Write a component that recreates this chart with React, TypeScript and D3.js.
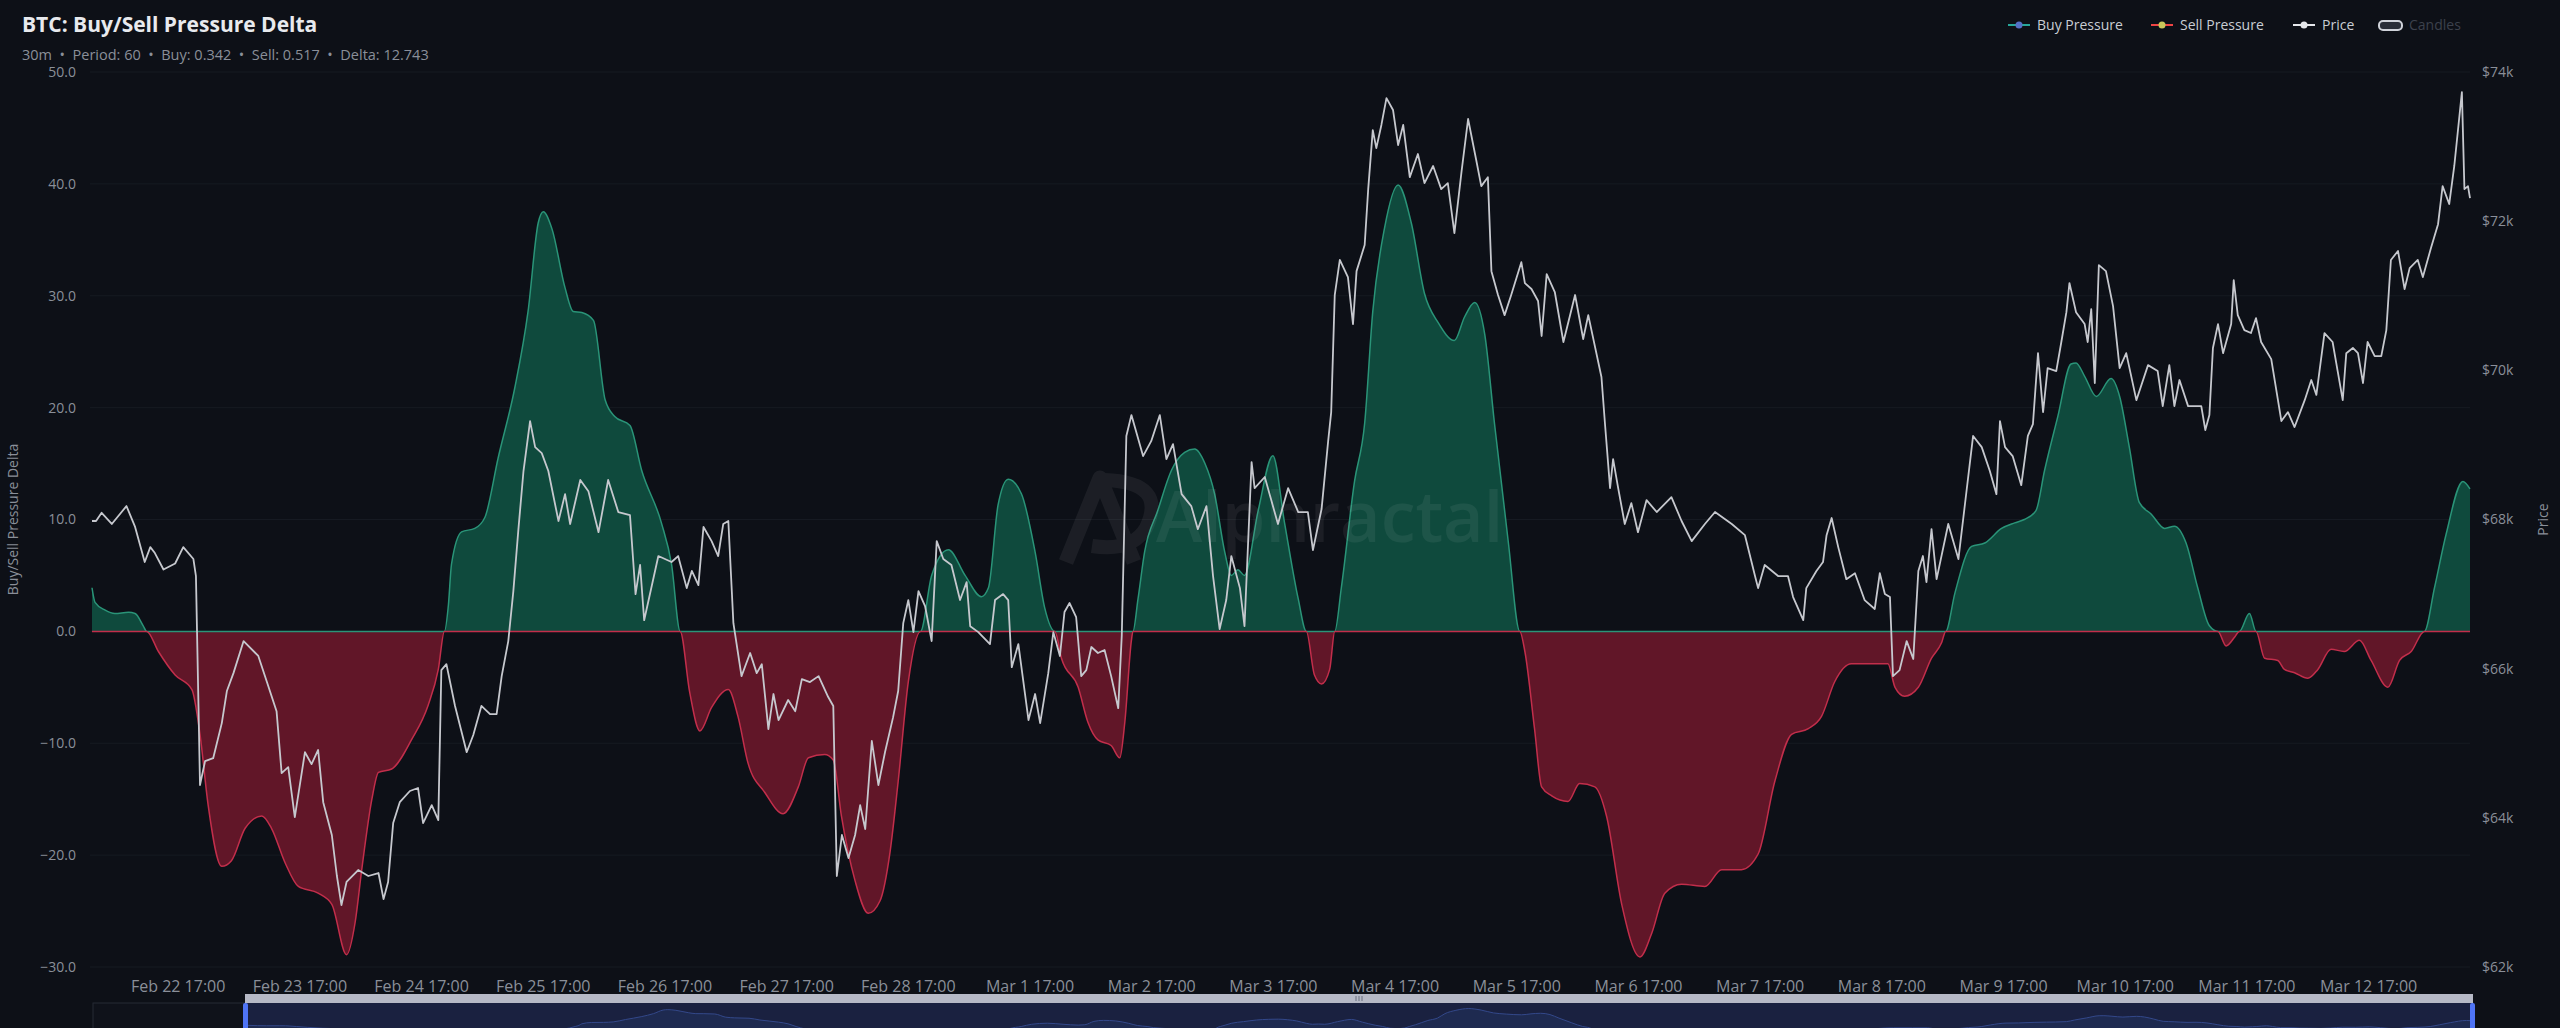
import React, { useEffect } from 'react';
import * as d3 from 'd3';

const W = 2560;
const H = 1028;
const START = new Date(2026, 1, 22, 0, 0);
const SPAN_HOURS = 469;

// Buy/Sell pressure delta (hours since Feb 22 00:00, value)
const deltaHours = [0, 0.6, 2.6, 4.5, 7.2, 8.5, 10.1, 10.8, 13.1, 16.4, 19.7, 21.3, 22.9, 25.6, 27.5, 30.2, 33.5, 35.4, 38.1, 40.7, 44.6, 47.3, 50.2, 51.9, 53.2, 55.2, 56.5, 59.1, 63.0, 66.3, 68.3, 69.5, 70.3, 70.9, 72.9, 75.5, 77.5, 80.1, 83.4, 86.0, 88.0, 89.0, 90.7, 93.3,
  94.9, 96.6, 98.9, 101.2, 103.1, 106.1, 108.4, 112.3, 114.3, 116.0, 117.9, 119.9, 122.2, 125.5, 127.4, 129.4, 132.7, 136.3, 139.3, 141.3, 144.5, 146.2, 147.8, 150.5, 153.1, 155.4, 157.4, 159.0, 161.0, 163.4, 165.6, 168.9, 172.2, 175.4, 176.8, 178.7, 180.7, 183.3, 186.0, 187.9, 189.9,
  191.2, 194.5, 196.4, 198.4, 201.0, 202.7, 203.7, 205.0, 205.3, 206.3, 207.6, 210.2, 212.9, 215.5, 217.5, 219.5, 221.4, 223.4, 224.7, 226.0, 227.3, 230.0, 232.9, 235.2, 237.9, 239.5, 241.1, 242.5, 244.1, 245.1, 246.4, 249.0, 251.0, 252.6, 254.9, 257.6, 260.2, 262.8, 265.5, 268.7, 270.7, 272.7, 274.7, 276.6, 279.3, 281.6,
  282.6, 284.5, 285.9, 287.9, 291.1, 293.4, 296.4, 298.7, 301.7, 305.3, 307.6, 310.2, 313.5, 318.1, 321.4, 325.3, 328.6, 331.9, 335.2, 338.5, 341.1, 343.7, 347.0, 351.0, 354.2, 355.6, 357.5, 360.2, 362.8, 364.8, 365.6, 367.4, 370.7, 373.3, 376.6, 379.2,
  381.1, 383.4, 385.1, 387.7, 390.3, 391.3, 393.0, 395.3, 398.2, 399.9, 401.8, 403.8, 406.1, 408.8, 410.7, 413.0, 415.3, 417.6, 419.3, 420.9, 422.6, 423.5, 425.5, 426.8, 428.5, 431.1, 432.4, 434.4, 437.0, 439.0, 441.6, 444.2, 447.2, 449.5, 452.8, 455.1, 457.4, 460.0, 462.0, 464.3, 467.6, 469.0];
const deltaValues = [3.9, 2.6, 1.9, 1.6, 1.7, 1.6, 0.5, 0, -1.8, -3.9, -5.2, -9.2, -15.5, -21.0, -20.5, -17.6, -16.5, -17.6, -20.7, -22.8, -23.4, -24.4, -28.9, -26.0, -21.3, -15.0, -12.6, -12.3, -9.7, -6.6, -3.4, 0, 2.4, 6.0, 8.9, 9.2, 10.2, 15.5, 21.8, 28.6, 36.5, 37.5, 36.0, 30.7,
  28.6, 28.5, 27.8, 20.7, 19.2, 18.4, 14.4, 9.7, 6.0, 0, -5.5, -8.9, -6.8, -5.2, -7.6, -11.8, -14.4, -16.3, -13.9, -11.3, -11.0, -11.5, -16.5, -22.3, -25.2, -24.1, -19.7, -13.4, -4.5, 0, 5.0, 7.3, 5.0, 3.1, 3.9, 11.3, 13.6, 12.3, 7.1, 2.1, 0,
  -2.4, -5.0, -8.1, -9.7, -10.2, -11.3, -8.1, -0.8, 0, 2.9, 7.1, 10.8, 14.4, 16.0, 16.3, 15.0, 12.3, 7.1, 5.0, 5.5, 5.0, 10.8, 15.7, 9.7, 2.9, 0, -3.9, -4.7, -3.4, 0, 3.9, 13.4, 18.6, 28.6, 36.0, 39.9, 36.5, 30.2, 27.6, 26.0, 28.1, 29.4, 26.5, 18.6, 8.1, 0,
  -1.8, -8.7, -13.9, -14.7, -15.2, -13.6, -13.9, -16.5, -24.4, -29.1, -27.0, -23.4, -22.6, -22.8, -21.3, -21.3, -19.9, -13.4, -9.2, -8.7, -7.6, -4.5, -2.9, -2.9, -2.9, -5.0, -5.8, -5.0, -2.4, -1.0, 0, 3.4, 7.6, 7.9, 9.2, 9.7,
  10.0, 10.8, 14.4, 19.2, 23.9, 24.0, 22.8, 21.0, 22.6, 21.0, 16.5, 11.5, 10.5, 9.2, 9.4, 7.9, 3.9, 0.5, 0, -1.3, -0.5, 0, 1.6, 0, -2.4, -2.6, -3.4, -3.7, -4.2, -3.4, -1.6, -1.8, -0.8, -2.6, -5.0, -2.6, -1.8, 0, 3.9, 8.7, 13.4, 12.74];

// BTC price (hours since Feb 22 00:00, USD)
const priceHours = [0, 0.8, 1.9, 3.9, 6.8, 8.5, 10.4, 11.5, 12.4, 14.1, 16.4, 18.0, 20.0, 20.5, 21.0, 21.3, 22.3, 23.9, 25.6, 26.6, 27.9, 29.9, 32.8, 34.5, 36.4, 37.4, 38.7, 40.0, 42.0, 43.3, 44.6, 45.6, 47.3, 48.3, 49.2, 50.2, 52.5, 54.5, 56.5, 57.5, 58.4, 59.4, 60.7, 62.7, 64.3, 65.3, 67.0, 68.3, 68.9, 69.9, 71.6, 73.9, 75.2, 76.8, 78.5, 79.8, 80.8, 82.1, 83.1, 84.1, 85.1, 86.4, 87.4, 88.7, 90.0, 92.0,
  93.3, 94.3, 96.3, 97.9, 99.9, 101.8, 103.8, 106.1, 107.2, 108.1, 108.9, 111.7, 114.3, 115.6, 117.3, 118.3, 119.6, 120.6, 122.2, 123.5, 124.5, 125.5, 126.5, 128.1, 129.8, 131.1, 132.1, 133.4, 134.4, 135.4, 137.3, 138.7, 140.0, 141.6, 143.3, 145.2, 146.2, 146.9, 147.9, 149.2, 150.5, 151.5, 152.5, 153.8, 155.1, 156.4, 158.0, 159.0, 160.0, 161.0, 162.0, 163.0, 164.3, 165.6, 166.6, 167.9, 169.5, 171.2, 172.5, 173.2, 174.8, 177.1, 178.1, 179.7, 180.7, 181.4, 182.7, 184.7, 186.0, 187.0, 188.6, 189.6,
  190.9, 191.8, 192.8, 194.1, 195.1, 196.1, 197.1, 198.4, 199.7, 201.0, 202.4, 203.1, 204.0, 205.0, 207.3, 208.9, 210.6, 211.9, 213.2, 214.9, 216.8, 218.1, 219.8, 221.1, 222.4, 223.7, 224.7, 226.4, 227.3, 228.7, 229.3, 231.3, 233.9, 235.9, 237.9, 239.8, 240.8, 242.5, 243.8, 244.4, 245.1, 246.1, 247.7, 248.7, 249.4, 251.0, 251.7, 252.6, 253.3, 254.3, 255.3, 256.6, 257.6, 258.6, 259.9, 261.5, 262.8, 264.5, 266.1, 267.4, 268.7, 270.1, 271.4, 273.0, 274.0, 275.3, 276.0, 277.3, 278.6, 279.9, 281.9,
  282.6, 283.9, 285.2, 285.9, 286.9, 288.5, 290.2, 292.5, 294.1, 295.1, 297.7, 298.4, 299.4, 300.0, 301.0, 302.3, 303.6, 304.9, 306.6, 308.6, 311.5, 313.5, 315.5, 318.1, 320.1, 323.4, 326.0, 328.0, 328.6, 329.9, 332.6, 334.5, 335.5, 337.5, 338.1, 340.1, 341.4, 342.1, 343.1, 344.4, 346.0, 347.7, 349.6, 351.6, 352.6, 353.6, 354.6, 355.2, 356.5, 357.9, 359.2, 360.2, 361.1, 361.8, 362.8, 363.8, 366.1, 368.1, 371.0, 372.7, 374.3, 375.6, 376.3, 377.3,
  378.8, 380.5, 381.8, 382.8, 383.8, 384.8, 385.7, 387.4, 388.4, 389.4, 390.0, 391.3, 393.0, 393.6, 394.3, 395.0, 395.8, 397.2, 398.6, 399.9, 401.2, 403.2, 405.5, 407.4, 408.4, 409.7, 410.7, 411.7, 413.4, 414.7, 416.0, 416.8, 417.6, 418.3, 419.3, 420.3, 421.9, 422.4, 423.2, 424.5, 425.8, 426.8, 427.8, 429.8, 431.8, 433.1, 434.4, 436.4, 437.7, 438.7, 440.3, 441.9, 442.9, 443.9, 444.6, 445.9, 446.9, 447.9, 448.8, 450.2, 451.5, 452.5, 453.4, 454.8, 456.1, 457.1, 458.7, 459.7, 461.3, 462.7, 463.6, 464.9, 465.9, 467.4, 467.9, 468.6, 469.0];
const priceValues = [67980, 67980, 68090, 67940, 68180, 67900, 67430, 67630, 67550, 67330, 67410, 67630, 67470, 67240, 65500, 64440, 64760, 64800, 65270, 65700, 65940, 66370, 66170, 65820, 65430, 64600, 64680, 64010, 64880, 64720, 64910, 64210, 63770, 63220, 62830, 63140, 63300, 63220, 63260, 62910, 63140, 63930, 64210, 64360, 64400, 63930, 64170, 63970, 65980, 66060, 65500, 64880, 65110, 65500, 65390, 65390, 65900, 66370, 67040, 67870, 68650, 69320, 68970, 68890, 68650, 67980,
  68340, 67940, 68530, 68380, 67830, 68530, 68100, 68060, 67000, 67390, 66650, 67510, 67430, 67510, 67080, 67310, 67120, 67900, 67710, 67510, 67940, 67980, 66610, 65900, 66210, 65940, 66060, 65190, 65660, 65310, 65580, 65430, 65860, 65820, 65900, 65620, 65500, 63220, 63770, 63460, 63770, 64170, 63850, 65030, 64440, 64880, 65350, 65700, 66610, 66920, 66490, 67040, 66840, 66370, 67710, 67470, 67390, 66920, 67160, 66570, 66490, 66330, 66920, 67000, 66920, 66020, 66330, 65310, 65660, 65270, 65940, 66490,
  66170, 66760, 66880, 66690, 65900, 65980, 66290, 66210, 66250, 65900, 65470, 66450, 69120, 69400, 68850, 69050, 69400, 68810, 69010, 68340, 68180, 67870, 68180, 67240, 66530, 66920, 67510, 67080, 66570, 68770, 68420, 68570, 67940, 68420, 68100, 68100, 67590, 68140, 69050, 69440, 71010, 71480, 71250, 70620, 71330, 71680, 72430, 73220, 72980, 73290, 73650, 73490, 73020, 73290, 72590, 72900, 72510, 72740, 72430, 72510, 71840, 72660, 73370, 72820, 72470, 72590, 71330, 71010, 70740, 71010, 71450,
  71170, 71090, 70930, 70460, 71290, 71050, 70380, 71010, 70420, 70740, 69910, 69280, 68420, 68810, 68420, 67940, 68220, 67830, 68260, 68100, 68300, 67980, 67710, 67940, 68100, 67940, 67790, 67240, 67080, 67390, 67240, 67240, 66960, 66650, 67080, 67310, 67430, 67790, 68020, 67630, 67200, 67280, 66920, 66800, 67280, 67000, 66960, 65900, 65980, 66370, 66130, 67310, 67510, 67160, 67870, 67200, 67940, 67470, 69120, 68970, 68650, 68340, 69320, 68970,
  68850, 68460, 69120, 69280, 70230, 69440, 70030, 69990, 70380, 70780, 71170, 70780, 70620, 70380, 70820, 69830, 71410, 71330, 70860, 70030, 70230, 69600, 70070, 69990, 69520, 70070, 69520, 69870, 69520, 69520, 69520, 69200, 69400, 70300, 70620, 70230, 70620, 71210, 70740, 70540, 70500, 70700, 70380, 70150, 69320, 69440, 69240, 69600, 69870, 69670, 70500, 70380, 69990, 69600, 70230, 70300, 70230, 69830, 70380, 70190, 70190, 70540, 71480, 71600, 71090, 71370, 71480, 71250, 71640, 71960, 72470, 72230, 72740, 73730, 72430, 72470, 72310];

const deltaTicks = [50, 40, 30, 20, 10, 0, -10, -20, -30];
const priceTicks = [74000, 72000, 70000, 68000, 66000, 64000, 62000];
const xTickLabels = ['Feb 22 17:00', 'Feb 23 17:00', 'Feb 24 17:00', 'Feb 25 17:00', 'Feb 26 17:00', 'Feb 27 17:00', 'Feb 28 17:00', 'Mar 1 17:00', 'Mar 2 17:00', 'Mar 3 17:00', 'Mar 4 17:00', 'Mar 5 17:00', 'Mar 6 17:00', 'Mar 7 17:00', 'Mar 8 17:00', 'Mar 9 17:00', 'Mar 10 17:00', 'Mar 11 17:00', 'Mar 12 17:00'];
const legendNames = ['Buy Pressure', 'Sell Pressure', 'Price', 'Candles'];

const FONT = '"Open Sans", "Noto Sans", sans-serif';
const BG = '#0d1017';
const AXIS_TEXT = '#8a8f99';

const hoursToDate = (h: number) => new Date(START.getTime() + h * 3600000);

export default function App() {
  useEffect(() => {
    document.body.style.margin = '0';
    document.body.style.background = BG;
  }, []);

  const END = hoursToDate(SPAN_HOURS);
  const x = d3.scaleTime().domain([START, END]).range([92, 2470]);
  const yD = d3.scaleLinear().domain([-30, 50]).range([967, 72]);
  const yP = d3.scaleLinear().domain([62000, 74000]).range([967, 72]);

  const deltaData = deltaHours.map((h, i) => ({ t: hoursToDate(h), v: deltaValues[i] }));
  const buyData = deltaData.map((d) => ({ t: d.t, v: Math.max(d.v, 0) }));
  const sellData = deltaData.map((d) => ({ t: d.t, v: Math.min(d.v, 0) }));
  const priceData = priceHours.map((h, i) => ({ t: hoursToDate(h), v: priceValues[i] }));

  const curve = d3.curveMonotoneX;
  const areaD = d3.area<{ t: Date; v: number }>().x((d) => x(d.t)).y0(yD(0)).y1((d) => yD(d.v)).curve(curve);
  const lineD = d3.line<{ t: Date; v: number }>().x((d) => x(d.t)).y((d) => yD(d.v)).curve(curve);
  const lineP = d3.line<{ t: Date; v: number }>().x((d) => x(d.t)).y((d) => yP(d.v));

  const parse = d3.timeParse('%Y %b %d %H:%M');
  const xTicks = xTickLabels.map((l) => ({ label: l, t: parse('2026 ' + l) as Date }));

  // slider (data zoom)
  const sx = d3.scaleTime().domain([START, END]).range([245, 2473]);
  const sy = d3.scaleLinear().domain([-30, 50]).range([1040, 1004]);
  const shadowArea = d3.area<{ t: Date; v: number }>().x((d) => sx(d.t)).y0(1045).y1((d) => sy(d.v)).curve(curve);
  const shadowLine = d3.line<{ t: Date; v: number }>().x((d) => sx(d.t)).y((d) => sy(d.v)).curve(curve);

  const legendX = [2008, 2151, 2293, 2379];

  return (
    <svg width={W} height={H} style={{ position: 'fixed', left: 0, top: 0, display: 'block' }} fontFamily={FONT}>
      <rect x={0} y={0} width={W} height={H} fill={BG} />

      {/* grid */}
      {deltaTicks.map((t) => (
        <line key={'g' + t} x1={90} x2={2470} y1={yD(t)} y2={yD(t)} stroke="#161a22" strokeWidth={1} />
      ))}

      {/* series */}
      <path d={areaD(buyData) || ''} fill="#0f4a3d" />
      <path d={areaD(sellData) || ''} fill="#611628" />
      <path d={lineD(buyData) || ''} fill="none" stroke="#2a9478" strokeWidth={1.5} />
      <path d={lineD(sellData) || ''} fill="none" stroke="#c22e4b" strokeWidth={1.5} />

      {/* watermark */}
      <g opacity={0.06} fill="#ffffff" stroke="#ffffff">
        <path d="M1066,562 L1100,478 L1134,562" fill="none" strokeWidth={15} strokeLinejoin="round" />
        <path d="M1104,480 Q1168,482 1146,528 Q1132,552 1092,546" fill="none" strokeWidth={14} />
        <text x={1156} y={542} fontSize={70} fontWeight={600} stroke="none">Alphractal</text>
      </g>

      <path d={lineP(priceData) || ''} fill="none" stroke="#c6c8ce" strokeWidth={1.8} strokeLinejoin="round" />

      {/* left axis */}
      {deltaTicks.map((t) => (
        <text key={'l' + t} x={76} y={yD(t)} dy="0.35em" textAnchor="end" fontSize={14} fill={AXIS_TEXT}>
          {d3.format('.1f')(t)}
        </text>
      ))}
      <text transform={`translate(18,${(yD(50) + yD(-30)) / 2}) rotate(-90)`} textAnchor="middle" fontSize={14} fill={AXIS_TEXT}>
        Buy/Sell Pressure Delta
      </text>

      {/* right axis */}
      {priceTicks.map((t) => (
        <text key={'r' + t} x={2482} y={yP(t)} dy="0.35em" textAnchor="start" fontSize={14} fill={AXIS_TEXT}>
          {'$' + t / 1000 + 'k'}
        </text>
      ))}
      <text transform={`translate(2548,${(yP(74000) + yP(62000)) / 2}) rotate(-90)`} textAnchor="middle" fontSize={14} fill={AXIS_TEXT}>
        Price
      </text>

      {/* x axis */}
      {xTicks.map((d) => (
        <text key={d.label} x={x(d.t)} y={986} dy="0.35em" textAnchor="middle" fontSize={16} fill={AXIS_TEXT}>
          {d.label}
        </text>
      ))}

      {/* title */}
      <text x={22} y={25} dy="0.35em" fontSize={21} fontWeight={700} fill="#e8eaee">BTC: Buy/Sell Pressure Delta</text>
      <text x={22} y={55} dy="0.35em" fontSize={14.5} fill={AXIS_TEXT} style={{ whiteSpace: 'pre' }}>
        {'30m  •  Period: 60  •  Buy: 0.342  •  Sell: 0.517  •  Delta: 12.743'}
      </text>

      {/* legend */}
      <g fontSize={14}>
        <line x1={legendX[0]} x2={legendX[0] + 22} y1={25} y2={25} stroke="#26a69a" strokeWidth={2} />
        <circle cx={legendX[0] + 11} cy={25} r={3.5} fill="#5470c6" />
        <text x={legendX[0] + 29} y={25} dy="0.35em" fill="#c9cdd4">{legendNames[0]}</text>

        <line x1={legendX[1]} x2={legendX[1] + 22} y1={25} y2={25} stroke="#ef4444" strokeWidth={2} />
        <circle cx={legendX[1] + 11} cy={25} r={3.5} fill="#c9c75a" />
        <text x={legendX[1] + 29} y={25} dy="0.35em" fill="#c9cdd4">{legendNames[1]}</text>

        <line x1={legendX[2]} x2={legendX[2] + 22} y1={25} y2={25} stroke="#e5e7eb" strokeWidth={2} />
        <circle cx={legendX[2] + 11} cy={25} r={3.5} fill="#e5e7eb" />
        <text x={legendX[2] + 29} y={25} dy="0.35em" fill="#c9cdd4">{legendNames[2]}</text>

        <rect x={legendX[3]} y={21} width={23} height={9} rx={4} fill="#2a2e38" stroke="#d0d3da" strokeWidth={2} />
        <text x={legendX[3] + 30} y={25} dy="0.35em" fill="#3c414c">{legendNames[3]}</text>
      </g>

      {/* data zoom slider */}
      <rect x={93} y={1003} width={2380} height={40} fill="#0f121a" stroke="#262a34" strokeWidth={1} />
      <rect x={245} y={1003} width={2228} height={40} fill="#1a2140" />
      <path d={shadowArea(deltaData) || ''} fill="#22305c" opacity={0.6} />
      <path d={shadowLine(deltaData) || ''} fill="none" stroke="#33488a" strokeWidth={1} />
      <rect x={245} y={994} width={2228} height={9} fill="#b6b9c6" />
      <g stroke="#6b7080" strokeWidth={1}>
        <line x1={1356} x2={1356} y1={996} y2={1001} />
        <line x1={1359} x2={1359} y1={996} y2={1001} />
        <line x1={1362} x2={1362} y1={996} y2={1001} />
      </g>
      <rect x={243} y={1003} width={5} height={30} rx={2} fill="#4f74f5" />
      <rect x={2470} y={1003} width={5} height={30} rx={2} fill="#4f74f5" />
    </svg>
  );
}
